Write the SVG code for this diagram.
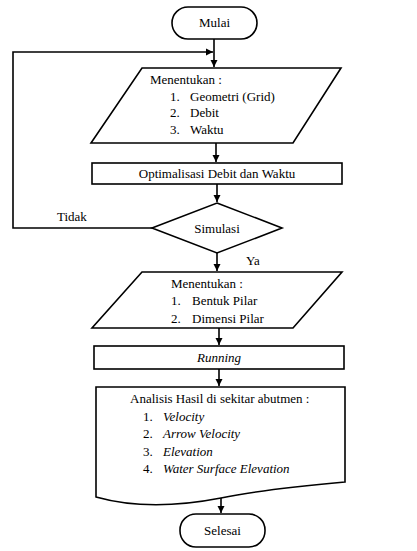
<svg xmlns="http://www.w3.org/2000/svg" width="417" height="551" viewBox="0 0 417 551">
<style>
.s{fill:#fff;stroke:#000;stroke-width:1.6}
.c{fill:none;stroke:#000;stroke-width:1.6}
.m{text-anchor:middle}
.i{font-style:italic}
</style>
<defs>
<marker id="a" markerWidth="8" markerHeight="8" refX="7" refY="4" orient="auto" markerUnits="userSpaceOnUse">
<path d="M0,0.5 L7,4 L0,7.5 Z" fill="#000"/>
</marker>
</defs>
<g style="font-family:'Liberation Serif';font-size:13px" fill="#000">
<g id="connectors">
<line class="c" x1="214" y1="39" x2="214" y2="67" marker-end="url(#a)"/>
<polyline class="c" points="152,228 13,228 13,52 213,52" marker-end="url(#a)"/>
<line class="c" x1="216" y1="143" x2="216" y2="162" marker-end="url(#a)"/>
<line class="c" x1="217" y1="184" x2="217" y2="202" marker-end="url(#a)"/>
<line class="c" x1="217" y1="253" x2="217" y2="271" marker-end="url(#a)"/>
<line class="c" x1="219" y1="328" x2="219" y2="345" marker-end="url(#a)"/>
<line class="c" x1="219" y1="369" x2="219" y2="386" marker-end="url(#a)"/>
<line class="c" x1="221" y1="498" x2="221" y2="513" marker-end="url(#a)"/>
<text x="57" y="221">Tidak</text>
<text x="246" y="265">Ya</text>
</g>
<g id="mulai">
<rect class="s" x="172" y="7" width="85" height="32" rx="16"/>
<text class="m" x="214.5" y="27">Mulai</text>
</g>
<g id="input1">
<polygon class="s" points="142,68 341,68 293,143 91,143"/>
<text x="150" y="84">Menentukan :</text>
<text x="170" y="101">1.</text><text x="190" y="101">Geometri (Grid)</text>
<text x="170" y="117">2.</text><text x="190" y="117">Debit</text>
<text x="170" y="134">3.</text><text x="190" y="134">Waktu</text>
</g>
<g id="optimalisasi">
<rect class="s" x="92" y="163" width="250" height="21"/>
<text class="m" x="217" y="178">Optimalisasi Debit dan Waktu</text>
</g>
<g id="simulasi">
<polygon class="s" points="217,203 282,228 217,253 152,228"/>
<text class="m" x="217" y="233">Simulasi</text>
</g>
<g id="input2">
<polygon class="s" points="142,272 342,272 293,328 92,328"/>
<text x="171" y="288">Menentukan :</text>
<text x="171" y="305">1.</text><text x="192" y="305">Bentuk Pilar</text>
<text x="171" y="323">2.</text><text x="192" y="323">Dimensi Pilar</text>
</g>
<g id="running">
<rect class="s" x="94" y="346" width="250" height="23"/>
<text class="m i" x="219" y="362">Running</text>
</g>
<g id="analisis">
<path class="s" d="M96,387 L345,387 L345,482 C 300,486 250,492 221,498 C 180,506 135,508 96,497 Z"/>
<text x="130" y="403">Analisis Hasil di sekitar abutmen :</text>
<text x="143" y="421">1.</text><text class="i" x="163" y="421">Velocity</text>
<text x="143" y="438">2.</text><text class="i" x="163" y="438">Arrow Velocity</text>
<text x="143" y="456">3.</text><text class="i" x="163" y="456">Elevation</text>
<text x="143" y="473">4.</text><text class="i" x="163" y="473">Water Surface Elevation</text>
</g>
<g id="selesai">
<rect class="s" x="180" y="514" width="85" height="33" rx="16"/>
<text class="m" x="222.5" y="535">Selesai</text>
</g>
</g>
</svg>
